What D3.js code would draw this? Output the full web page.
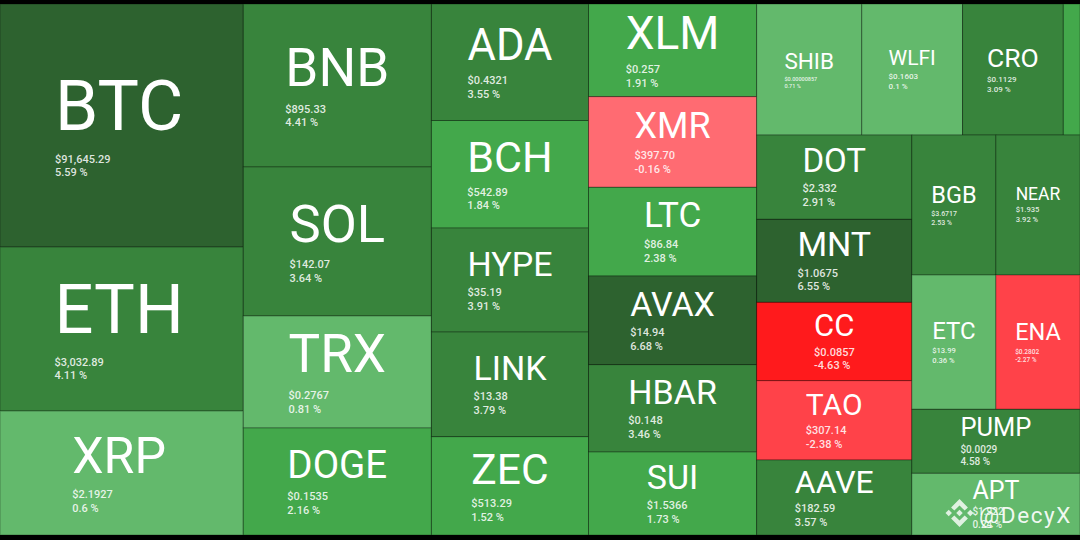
<!DOCTYPE html>
<html>
<head>
<meta charset="utf-8">
<title>Crypto market heatmap</title>
<script src="https://cdn.jsdelivr.net/npm/d3@7"></script>
<style>
  html, body { margin: 0; padding: 0; background: #000; overflow: hidden; }
  svg { display: block; }
  text { font-family: Roboto, sans-serif; fill: #fff; }
</style>
</head>
<body>
<svg id="map" width="1080" height="540"></svg>
<script>
// one entry per coin, same order everywhere. the last blank one is the tile cut off at the right edge
const symbols = ['BTC', 'ETH', 'XRP', 'BNB', 'SOL', 'TRX', 'DOGE', 'ADA', 'BCH', 'HYPE', 'LINK', 'ZEC',
  'XLM', 'XMR', 'LTC', 'AVAX', 'HBAR', 'SUI', 'SHIB', 'WLFI', 'CRO', 'DOT', 'MNT', 'CC', 'TAO', 'AAVE',
  'BGB', 'NEAR', 'ETC', 'ENA', 'PUMP', 'APT', '']
const prices = ['$91,645.29', '$3,032.89', '$2.1927', '$895.33', '$142.07', '$0.2767', '$0.1535', '$0.4321', '$542.89', '$35.19', '$13.38', '$513.29',
  '$0.257', '$397.70', '$86.84', '$14.94', '$0.148', '$1.5366', '$0.00000857', '$0.1603', '$0.1129', '$2.332', '$1.0675', '$0.0857', '$307.14', '$182.59',
  '$3.6717', '$1.935', '$13.99', '$0.2802', '$0.0029', '$1.922', '']
const changes = [5.59, 4.11, 0.6, 4.41, 3.64, 0.81, 2.16, 3.55, 1.84, 3.91, 3.79, 1.52,
  1.91, -0.16, 2.38, 6.68, 3.46, 1.73, 0.71, 0.1, 3.09, 2.91, 6.55, -4.63, -2.38, 3.57,
  2.53, 3.92, 0.36, -2.27, 4.58, 0.24, 2]
const weights = [590.5, 398.5, 301.3, 306.4, 280.1, 210.6, 201.2, 182.9, 168.8, 163.3, 164.4, 154.3,
  155.7, 152.2, 149, 149, 146.7, 139.4, 137.6, 131.9, 131.8, 130.7, 128.7, 121.5, 122.9, 116.3,
  117.6, 117.6, 112.8, 112.8, 107.5, 103.7, 21.9]

// how the tiles nest: depth flips between side by side and stacked
const groups = [
  ['BTC', 'ETH', 'XRP'],
  ['BNB', 'SOL', 'TRX', 'DOGE'],
  ['ADA', 'BCH', 'HYPE', 'LINK', 'ZEC'],
  ['XLM', 'XMR', 'LTC', 'AVAX', 'HBAR', 'SUI'],
  [
    ['SHIB', 'WLFI', 'CRO', ''],
    [
      ['DOT', 'MNT', 'CC', 'TAO', 'AAVE'],
      [['BGB', 'NEAR'], ['ETC', 'ENA'], 'PUMP', 'APT']
    ]
  ]
]

// label sizes per tile, [symbol, price lines]
const labelSizes = {
  BTC: [69.5, 11], ETH: [68.5, 11], XRP: [50, 11], BNB: [53, 11], SOL: [52.5, 11], TRX: [53, 11], DOGE: [38.5, 11],
  ADA: [43.5, 11], BCH: [43, 11], HYPE: [34, 11], LINK: [34, 11], ZEC: [42.5, 11],
  XLM: [46, 11], XMR: [36, 11], LTC: [35, 11], AVAX: [34, 11], HBAR: [34, 11], SUI: [34, 11],
  SHIB: [22.5, 5.5], WLFI: [21, 8], CRO: [26.5, 8], DOT: [33, 11], MNT: [34, 11], CC: [31, 11], TAO: [30, 11], AAVE: [32, 11],
  BGB: [23.5, 7], NEAR: [17.5, 7.6], ETC: [24, 7.6], ENA: [23.5, 6.5], PUMP: [25.5, 10], APT: [25, 10]
}

const mapWidth = 1080, mapTop = 4, mapHeight = 531

const color = d3.scaleThreshold()
  .domain([-3, -1, 0, 1, 2.5, 5])
  .range(['#ff1a1c', '#ff4249', '#ff6b72', '#63b96c', '#43a84b', '#38843c', '#2d622f'])

const idx = d => symbols.indexOf(d)

const root = d3.hierarchy(groups, d => Array.isArray(d) ? d : null)
  .sum(d => Array.isArray(d) ? 0 : weights[idx(d)])

d3.treemap()
  .size([mapWidth, mapHeight])
  .round(false)
  .tile((node, x0, y0, x1, y1) => {
    if (node.depth % 2) d3.treemapSlice(node, x0, y0, x1, y1)
    else d3.treemapDice(node, x0, y0, x1, y1)
  })(root)

const svg = d3.select('#map')

svg.append('rect')
  .attr('width', 1080)
  .attr('height', 540)
  .attr('fill', '#000')

const tile = svg.append('g')
  .attr('transform', 'translate(0,' + mapTop + ')')
  .selectAll('g')
  .data(root.leaves())
  .enter().append('g')

tile.append('rect')
  .attr('x', d => d.x0)
  .attr('y', d => d.y0)
  .attr('width', d => d.x1 - d.x0)
  .attr('height', d => d.y1 - d.y0)
  .attr('fill', d => color(changes[idx(d.data)]))
  .attr('stroke', 'rgba(0,0,0,0.3)')
  .attr('stroke-width', 1)

const labelled = tile.filter(d => d.data !== '')

// symbol and the two small lines share a left edge, the block is centered on the symbol width
const baseline = d => {
  const [s, sub] = labelSizes[d.data]
  return (d.y0 + d.y1) / 2 + 0.257 * s - 1.2 * sub
}

const sym = labelled.append('text')
  .text(d => d.data)
  .attr('y', baseline)
  .attr('font-size', d => labelSizes[d.data][0])

// the left column runs a bit past the crop, so its labels sit slightly left of the visible middle
sym.each(function(d) {
  const cx = (d.x0 + d.x1) / 2 - (d.x0 === 0 ? 2.5 : 0)
  d.left = cx - this.getComputedTextLength() / 2
})
sym.attr('x', d => d.left)

const subY = (d, line) => {
  const [s, sub] = labelSizes[d.data]
  return baseline(d) + 0.34 * s + 0.8 * sub + line * sub * 1.25
}

labelled.append('text')
  .text(d => prices[idx(d.data)])
  .attr('x', d => d.left)
  .attr('y', d => subY(d, 0))
  .attr('font-size', d => labelSizes[d.data][1])
  .attr('font-weight', 500)
  .attr('fill-opacity', 0.85)

labelled.append('text')
  .text(d => changes[idx(d.data)] + ' %')
  .attr('x', d => d.left)
  .attr('y', d => subY(d, 1))
  .attr('font-size', d => labelSizes[d.data][1])
  .attr('font-weight', 500)
  .attr('fill-opacity', 0.85)

// watermark, bottom right
const mark = svg.append('g').attr('transform', 'translate(959.5,513) scale(14)')
const chevron = 'M0,-1L0.6,-0.4L0.37,-0.17L0,-0.54L-0.37,-0.17L-0.6,-0.4Z'
const diamond = 'M0,-0.23L0.23,0L0,0.23L-0.23,0Z'
mark.append('path').attr('d', chevron).attr('fill', '#fff').attr('fill-opacity', 0.8)
mark.append('path').attr('d', chevron).attr('transform', 'rotate(180)').attr('fill', '#fff').attr('fill-opacity', 0.8)
mark.selectAll('.dot')
  .data([-0.77, 0, 0.77])
  .enter().append('path')
  .attr('class', 'dot')
  .attr('d', diamond)
  .attr('transform', d => 'translate(' + d + ',0)')
  .attr('fill', '#fff')
  .attr('fill-opacity', 0.8)

svg.append('text')
  .text('@DecyX')
  .attr('x', 979)
  .attr('y', 523)
  .attr('font-size', 22.5)
  .attr('letter-spacing', 1.6)
  .attr('fill-opacity', 0.92)
</script>
</body>
</html>
